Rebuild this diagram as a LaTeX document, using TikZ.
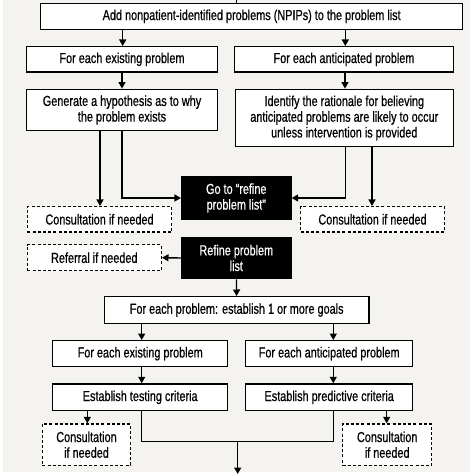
\documentclass[tikz,border=0pt]{standalone}
\usepackage{fontspec}
\setmainfont{Liberation Sans}[FakeStretch=0.75,FakeBold=0.6]
\usetikzlibrary{arrows.meta}
\definecolor{bgcol}{RGB}{244,243,239}
\tikzset{
  box/.style={draw, line width=1.4pt, fill=white, inner sep=0pt, align=center,
    font=\fontsize{14.5}{15.7}\selectfont},
  dashbox/.style={box, dash pattern=on 3pt off 2.2pt},
  blackbox/.style={box, fill=black, text=white},
  arr/.style={line width=1.4pt, -{Triangle[length=6.5pt,width=7pt]}},
  ln/.style={line width=1.4pt}
}
\begin{document}
\begin{tikzpicture}[x=1pt,y=-1pt]
  \useasboundingbox (0,0) rectangle (474,474);
  \fill[bgcol] (3,0) rectangle (470,472);
  % first part
  \node[box, minimum width=422pt, minimum height=26pt] (npip) at (251.7,16.3)
    {Add nonpatient-identified problems (NPIPs) to the problem list};
  \node[box, minimum width=190.6pt, minimum height=25.3pt] (exist1) at (122,59.3) {For each existing problem};
  \node[box, minimum width=218.6pt, minimum height=25.3pt] (antic1) at (344,59.3) {For each anticipated problem};
  \node[box, minimum width=190.6pt, minimum height=41.4pt] (hypo) at (122,110)
    {Generate a hypothesis as to why\\the problem exists};
  \node[box, minimum width=218pt, minimum height=57.4pt] (ration) at (344.3,118)
    {Identify the rationale for believing\\anticipated problems are likely to occur\\unless intervention is provided};
  \node[blackbox, minimum width=109.3pt, minimum height=42.6pt] (goto) at (236.3,198)
    {Go to “refine\\problem list”};
  \node[dashbox, minimum width=144.4pt, minimum height=25.3pt] (consL) at (99.5,219.3) {Consultation if needed};
  \node[dashbox, minimum width=143.6pt, minimum height=25.3pt] (consR) at (372.5,219.3) {Consultation if needed};
  \node[blackbox, minimum width=109.3pt, minimum height=41.4pt] (refine) at (236.3,258)
    {Refine problem\\list};
  \node[dashbox, minimum width=134pt, minimum height=26pt] (referral) at (94.3,257.7) {Referral if needed};
  % goals part
  \node[box, minimum width=264.7pt, minimum height=26.6pt] (goals) at (236.7,310)
    {For each problem: establish 1 or more goals};
  \node[box, minimum width=175pt, minimum height=26pt] (exist2) at (140.2,353.7) {For each existing problem};
  \node[box, minimum width=167pt, minimum height=26pt] (antic2) at (329.2,353.7) {For each anticipated problem};
  \node[box, minimum width=175pt, minimum height=26.7pt] (test) at (140.2,397.3) {Establish testing criteria};
  \node[box, minimum width=167pt, minimum height=26.7pt] (pred) at (329.2,397.3) {Establish predictive criteria};
  \node[dashbox, minimum width=88.4pt, minimum height=41.3pt] (cons3) at (86.5,444.7) {Consultation\\if needed};
  \node[dashbox, minimum width=89pt, minimum height=41.3pt] (cons4) at (387.2,444.7) {Consultation\\if needed};
  \coordinate (top) at (236.7,0);
  \coordinate (merge) at (237.7,441.7);
  \coordinate (out) at (237.7,474);

  \draw[ln] (top) -- (top |- npip.north);
  \draw[arr] ([xshift=0.7pt]exist1.north |- npip.south) -- ([xshift=0.7pt]exist1.north);
  \draw[arr] ([xshift=1.3pt]antic1.north |- npip.south) -- ([xshift=1.3pt]antic1.north);
  \draw[arr] (exist1) -- (hypo);
  \draw[arr] ([xshift=1pt]antic1.south) -- ([xshift=1pt]antic1.south |- ration.north);
  \draw[arr] ([xshift=-22pt]hypo.south) -- ([xshift=-22pt]hypo.south |- consL.north);
  \draw[arr] (hypo.south) |- (goto.west);
  \draw[arr] ([xshift=1pt]ration.south) |- (goto.east);
  \draw[arr] ([xshift=27.7pt]ration.south) -- ([xshift=27.7pt]ration.south |- consR.north);
  \draw[arr] (refine.west) -- (referral.east);
  \draw[arr] (refine) -- (goals);
  \draw[arr] ([xshift=1.5pt]exist2.north |- goals.south) -- ([xshift=1.5pt]exist2.north);
  \draw[arr] ([xshift=4.1pt]antic2.north |- goals.south) -- ([xshift=4.1pt]antic2.north);
  \draw[arr] ([xshift=1.5pt]exist2.south) -- ([xshift=1.5pt]test.north);
  \draw[arr] ([xshift=4.1pt]antic2.south) -- ([xshift=4.1pt]pred.north);
  \draw[arr] ([xshift=-52.9pt]test.south) -- ([xshift=-52.9pt]test.south |- cons3.north);
  \draw[arr] ([xshift=57.5pt]pred.south) -- ([xshift=57.5pt]pred.south |- cons4.north);
  \draw[ln] ([xshift=1.5pt]test.south) |- (merge) -| ([xshift=4.1pt]pred.south);
  \draw[arr] (merge) -- (out);
\end{tikzpicture}
\end{document}
